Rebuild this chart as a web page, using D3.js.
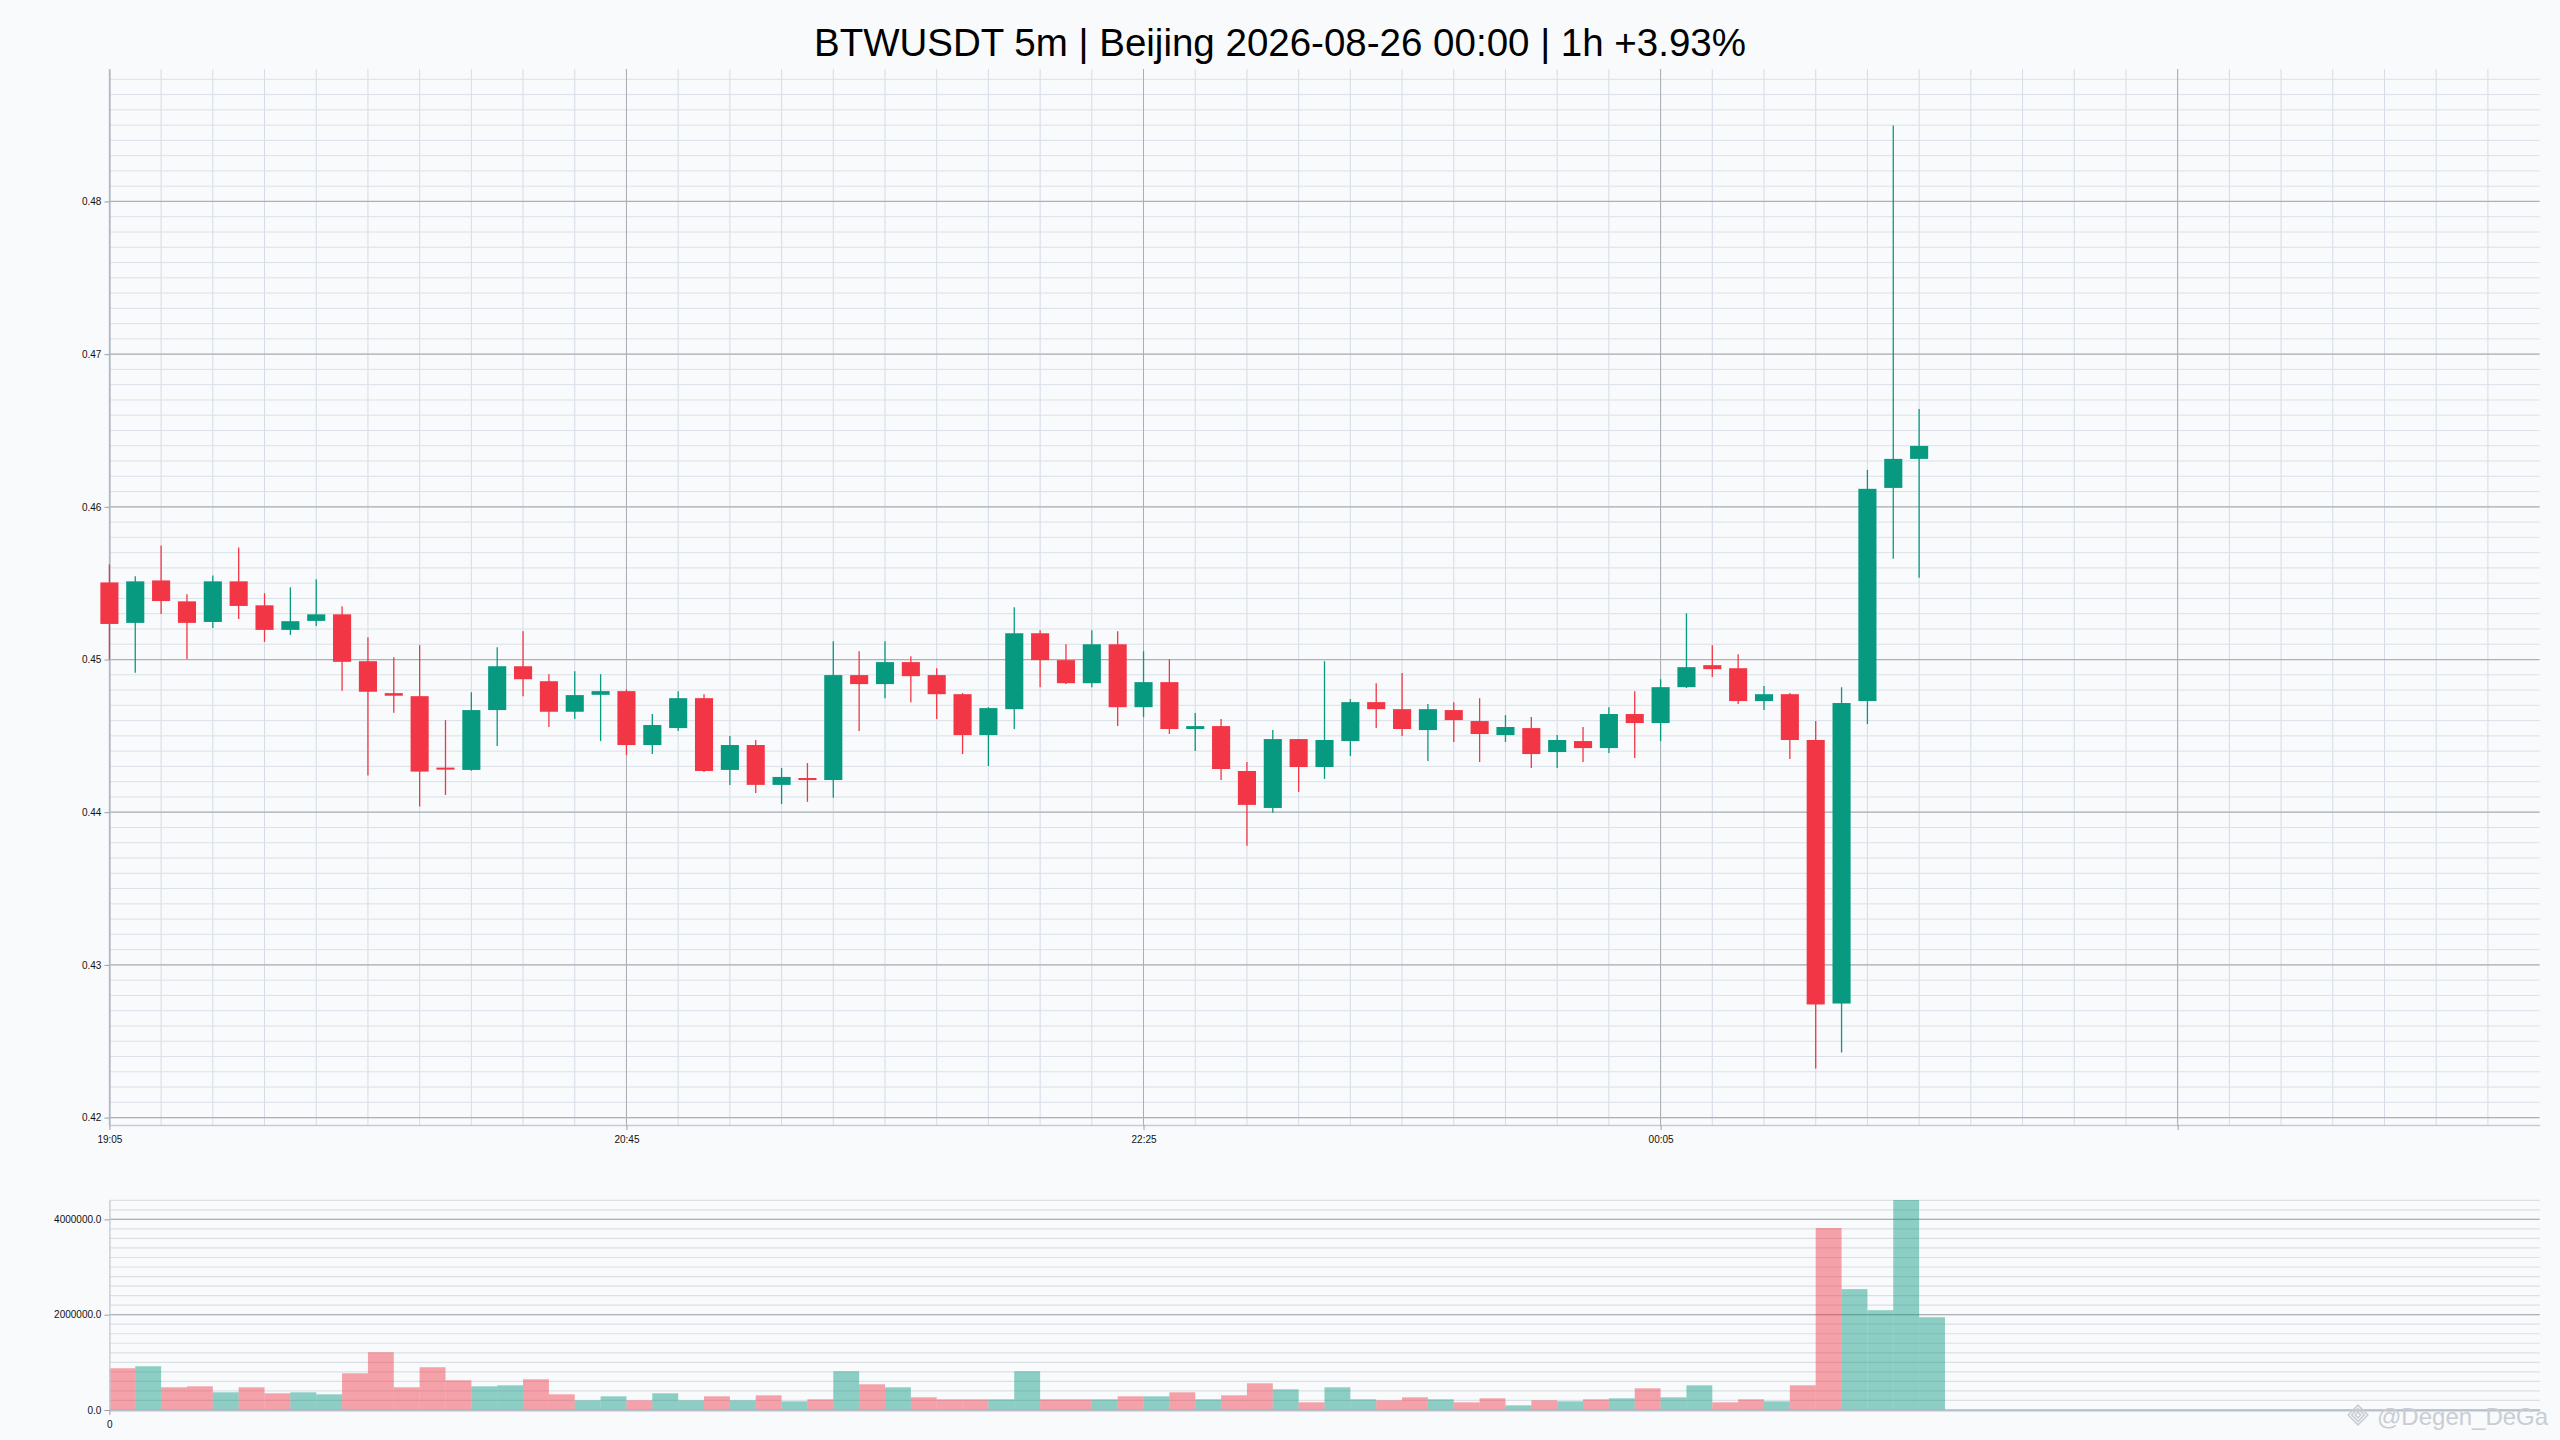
<!DOCTYPE html>
<html>
<head>
<meta charset="utf-8">
<script src="https://cdn.jsdelivr.net/npm/d3@7"></script>
<style>
  body { margin: 0; background: #f8fafc; }
  svg { display: block; }
  text { font-family: "Liberation Sans", Arial, sans-serif; }
</style>
</head>
<body>
<svg id="chart" width="2560" height="1440"></svg>
<script>
// --- data ---
var startDay = "2026-08-25";
var timeLabels = [
  "19:05","19:10","19:15","19:20","19:25","19:30","19:35","19:40","19:45","19:50",
  "19:55","20:00","20:05","20:10","20:15","20:20","20:25","20:30","20:35","20:40",
  "20:45","20:50","20:55","21:00","21:05","21:10","21:15","21:20","21:25","21:30",
  "21:35","21:40","21:45","21:50","21:55","22:00","22:05","22:10","22:15","22:20",
  "22:25","22:30","22:35","22:40","22:45","22:50","22:55","23:00","23:05","23:10",
  "23:15","23:20","23:25","23:30","23:35","23:40","23:45","23:50","23:55","00:00",
  "00:05","00:10","00:15","00:20","00:25","00:30","00:35","00:40","00:45","00:50",
  "00:55"
];
var open = [
  0.45505,0.45240,0.45518,0.45381,0.45246,0.45512,0.45355,0.45194,0.45253,0.45296,
  0.44989,0.44780,0.44760,0.44292,0.44277,0.44669,0.44956,0.44858,0.44658,0.44769,
  0.44793,0.44440,0.44551,0.44747,0.44277,0.44440,0.44179,0.44224,0.44211,0.44898,
  0.44839,0.44983,0.44898,0.44773,0.44505,0.44675,0.45172,0.44996,0.44845,0.45100,
  0.44688,0.44852,0.44545,0.44564,0.44270,0.44028,0.44479,0.44296,0.44466,0.44721,
  0.44675,0.44538,0.44669,0.44597,0.44505,0.44551,0.44394,0.44466,0.44420,0.44643,
  0.44584,0.44819,0.44963,0.44943,0.44728,0.44773,0.44473,0.42747,0.44728,0.46124,
  0.46314
];
var high = [
  0.45623,0.45545,0.45747,0.45427,0.45551,0.45734,0.45434,0.45473,0.45525,0.45349,
  0.45146,0.45015,0.45094,0.44603,0.44786,0.45081,0.45185,0.44904,0.44924,0.44904,
  0.44804,0.44643,0.44793,0.44773,0.44499,0.44473,0.44290,0.44322,0.45120,0.45054,
  0.45120,0.45022,0.44943,0.44780,0.44688,0.45342,0.45192,0.45100,0.45192,0.45185,
  0.45054,0.45002,0.44649,0.44610,0.44329,0.44538,0.44479,0.44989,0.44741,0.44845,
  0.44911,0.44708,0.44721,0.44747,0.44636,0.44623,0.44505,0.44558,0.44688,0.44793,
  0.44871,0.45303,0.45094,0.45035,0.44826,0.44780,0.44597,0.44819,0.46242,0.48497,
  0.46641
];
var low = [
  0.45000,0.44913,0.45298,0.45004,0.45207,0.45266,0.45115,0.45161,0.45220,0.44795,
  0.44240,0.44651,0.44037,0.44113,0.44272,0.44434,0.44760,0.44558,0.44610,0.44466,
  0.44375,0.44381,0.44532,0.44264,0.44179,0.44126,0.44054,0.44068,0.44094,0.44532,
  0.44747,0.44721,0.44610,0.44381,0.44303,0.44545,0.44819,0.44839,0.44819,0.44564,
  0.44623,0.44512,0.44401,0.44211,0.43780,0.43996,0.44133,0.44218,0.44368,0.44551,
  0.44499,0.44336,0.44460,0.44329,0.44460,0.44290,0.44290,0.44329,0.44388,0.44355,
  0.44466,0.44813,0.44885,0.44708,0.44669,0.44349,0.42322,0.42427,0.44577,0.45660,
  0.45536
];
var close = [
  0.45233,0.45512,0.45383,0.45240,0.45512,0.45351,0.45194,0.45251,0.45296,0.44985,
  0.44789,0.44763,0.44266,0.44279,0.44669,0.44956,0.44871,0.44658,0.44767,0.44793,
  0.44440,0.44571,0.44747,0.44270,0.44440,0.44179,0.44231,0.44211,0.44898,0.44839,
  0.44983,0.44891,0.44773,0.44505,0.44682,0.45172,0.44996,0.44845,0.45100,0.44688,
  0.44852,0.44545,0.44564,0.44283,0.44048,0.44479,0.44296,0.44473,0.44721,0.44675,
  0.44545,0.44675,0.44603,0.44512,0.44558,0.44381,0.44473,0.44420,0.44643,0.44584,
  0.44819,0.44950,0.44937,0.44728,0.44773,0.44473,0.42741,0.44715,0.46118,0.46314,
  0.46399
];
var volume = [
  876000,918000,476000,497000,371000,476000,350000,371000,329000,770000,
  1212000,476000,897000,623000,497000,518000,644000,329000,203000,287000,
  203000,350000,203000,287000,203000,308000,182000,224000,813000,539000,
  476000,266000,224000,224000,224000,813000,224000,224000,224000,287000,
  287000,371000,224000,308000,560000,434000,161000,476000,224000,203000,
  266000,224000,161000,245000,98000,203000,182000,224000,245000,455000,
  266000,518000,161000,224000,182000,518000,3818000,2536000,2094000,4406000,
  1947000
];

var xDomainLabels = ["2026-08-25 19:05", "2026-08-26 02:55"];
var timeTickValues = ["2026-08-25 19:05", "2026-08-25 20:45", "2026-08-25 22:25", "2026-08-26 00:05", "2026-08-26 01:45"];
var timeTickLabels = ["19:05", "20:45", "22:25", "00:05", ""];
var priceTicks = [0.42, 0.43, 0.44, 0.45, 0.46, 0.47, 0.48];
var volumeTicks = [0, 2000000, 4000000];
var volumeXTickLabels = ["0"];

var title = "BTWUSDT 5m | Beijing 2026-08-26 00:00 | 1h +3.93%";
var watermark = "@Degen_DeGa";

// --- setup ---
var svg = d3.select("#chart");
var upColor = "#089981";
var downColor = "#f23645";

var parseTime = d3.timeParse("%Y-%m-%d %H:%M");
var day = parseTime(startDay + " 00:00");
var prevHour = -1;
var times = timeLabels.map(function (t) {
  var h = +t.slice(0, 2);
  if (h < prevHour) day = d3.timeDay.offset(day, 1);
  prevHour = h;
  return parseTime(d3.timeFormat("%Y-%m-%d")(day) + " " + t);
});

var candles = times.map(function (t, i) {
  return { t: t, o: open[i], h: high[i], l: low[i], c: close[i], v: volume[i], up: close[i] >= open[i] };
});

var plotL = 109.4, plotR = 2539.6;
var mainTop = 69, mainBottom = 1125;
var volTop = 1200, volBottom = 1410;

var x = d3.scaleTime()
  .domain(xDomainLabels.map(parseTime))
  .range([plotL, plotR]);

var minLow = d3.min(low), maxHigh = d3.max(high);
var pad = (maxHigh - minLow) * 0.06;
var y = d3.scaleLinear()
  .domain([minLow - pad, maxHigh + pad])
  .range([mainBottom, mainTop]);

var vy = d3.scaleLinear()
  .domain([0, d3.max(volume)])
  .range([volBottom, volTop]);

var step = x(times[1]) - x(times[0]);

// --- title ---
svg.append("text")
  .attr("x", 1280)
  .attr("y", 56)
  .attr("text-anchor", "middle")
  .style("font-size", "38.5px")
  .style("fill", "#000")
  .text(title);

// --- main grid ---
var grid = svg.append("g");

grid.selectAll(".vminor")
  .data(d3.timeMinute.range(x.domain()[0], x.domain()[1], 10))
  .enter().append("line")
  .attr("x1", function (d) { return x(d); })
  .attr("x2", function (d) { return x(d); })
  .attr("y1", mainTop).attr("y2", mainBottom)
  .attr("stroke", "#d5dce6").attr("stroke-width", 1);

grid.selectAll(".hminor")
  .data(y.ticks(60))
  .enter().append("line")
  .attr("x1", plotL).attr("x2", plotR)
  .attr("y1", function (d) { return y(d); })
  .attr("y2", function (d) { return y(d); })
  .attr("stroke", "#dae1e9").attr("stroke-width", 1);

grid.selectAll(".vmajor")
  .data(timeTickValues.map(parseTime))
  .enter().append("line")
  .attr("x1", function (d) { return x(d); })
  .attr("x2", function (d) { return x(d); })
  .attr("y1", mainTop).attr("y2", mainBottom)
  .attr("stroke", "#a9adb3").attr("stroke-width", 1);

grid.selectAll(".hmajor")
  .data(priceTicks)
  .enter().append("line")
  .attr("x1", plotL).attr("x2", plotR)
  .attr("y1", function (d) { return y(d); })
  .attr("y2", function (d) { return y(d); })
  .attr("stroke", "#adb0b5").attr("stroke-width", 1.2);

// --- main axes ---
var yAxisG = svg.append("g")
  .attr("transform", "translate(" + plotL + ",0)")
  .call(d3.axisLeft(y).tickValues(priceTicks).tickFormat(d3.format(".2f")).tickSize(5).tickSizeOuter(0).tickPadding(3));

var xAxisG = svg.append("g")
  .attr("transform", "translate(0," + mainBottom + ")")
  .call(d3.axisBottom(x)
    .tickValues(timeTickValues.map(parseTime))
    .tickFormat(function (d, i) { return timeTickLabels[i]; })
    .tickSize(5).tickSizeOuter(0).tickPadding(6));

[yAxisG, xAxisG].forEach(function (g) {
  g.selectAll("text").style("font-size", "10px").style("fill", "#111")
    .style("font-family", '"Liberation Sans", Arial, sans-serif');
  g.selectAll(".tick line").attr("stroke", "#9aa1a9");
});
yAxisG.select(".domain").attr("stroke", "#b3bac4").attr("stroke-width", 1.6);
xAxisG.select(".domain").attr("stroke", "#c4ccd6").attr("stroke-width", 1.6);

// --- candles ---
var candleG = svg.append("g").selectAll(".candle")
  .data(candles)
  .enter().append("g")
  .attr("transform", function (d) { return "translate(" + x(d.t) + ",0)"; });

candleG.append("line")
  .attr("x1", 0).attr("x2", 0)
  .attr("y1", function (d) { return y(d.h); })
  .attr("y2", function (d) { return y(d.l); })
  .attr("stroke", function (d) { return d.up ? upColor : downColor; })
  .attr("stroke-width", 1.3);

var bodyW = step * 0.7;
candleG.append("rect")
  .attr("x", -bodyW / 2)
  .attr("width", bodyW)
  .attr("y", function (d) { return y(Math.max(d.o, d.c)); })
  .attr("height", function (d) { return Math.max(2, Math.abs(y(d.o) - y(d.c))); })
  .attr("fill", function (d) { return d.up ? upColor : downColor; });

// --- volume panel ---
var vgrid = svg.append("g");
vgrid.selectAll(".vhminor")
  .data(vy.ticks(22))
  .enter().append("line")
  .attr("x1", plotL).attr("x2", plotR)
  .attr("y1", function (d) { return vy(d); })
  .attr("y2", function (d) { return vy(d); })
  .attr("stroke", "#dcdfe4").attr("stroke-width", 1.2);

vgrid.selectAll(".vhmajor")
  .data(volumeTicks)
  .enter().append("line")
  .attr("x1", plotL).attr("x2", plotR)
  .attr("y1", function (d) { return vy(d); })
  .attr("y2", function (d) { return vy(d); })
  .attr("stroke", "#adb0b5").attr("stroke-width", 1.2);

svg.append("g").selectAll(".vol")
  .data(candles)
  .enter().append("rect")
  .attr("x", function (d) { return x(d.t); })
  .attr("width", step)
  .attr("y", function (d) { return vy(d.v); })
  .attr("height", function (d) { return vy(0) - vy(d.v); })
  .attr("fill", function (d) { return d.up ? upColor : downColor; })
  .attr("fill-opacity", 0.45);

var vyAxisG = svg.append("g")
  .attr("transform", "translate(" + plotL + ",0)")
  .call(d3.axisLeft(vy).tickValues(volumeTicks).tickFormat(d3.format(".1f")).tickSize(5).tickSizeOuter(0).tickPadding(3));

var vxAxisG = svg.append("g")
  .attr("transform", "translate(0," + volBottom + ")")
  .call(d3.axisBottom(x)
    .tickValues([times[0]])
    .tickFormat(function (d, i) { return volumeXTickLabels[i]; })
    .tickSize(5).tickSizeOuter(0).tickPadding(6));

[vyAxisG, vxAxisG].forEach(function (g) {
  g.selectAll("text").style("font-size", "10px").style("fill", "#111")
    .style("font-family", '"Liberation Sans", Arial, sans-serif');
  g.selectAll(".tick line").attr("stroke", "#9aa1a9");
});
vyAxisG.select(".domain").attr("stroke", "#c4ccd6").attr("stroke-width", 1.4);
vxAxisG.select(".domain").attr("stroke", "#b9c1cc").attr("stroke-width", 1.8);

// --- watermark ---
var wm = svg.append("g").attr("transform", "translate(2358,1415)");
[14, 9, 4].forEach(function (s) {
  wm.append("rect")
    .attr("x", -s / 2).attr("y", -s / 2)
    .attr("width", s).attr("height", s)
    .attr("transform", "rotate(45)")
    .attr("fill", "none")
    .attr("stroke", "#c9cdd3")
    .attr("stroke-width", 1.5);
});
svg.append("text")
  .attr("x", 2377)
  .attr("y", 1425)
  .style("font-size", "24px")
  .style("fill", "#c9cdd3")
  .text(watermark);
</script>
</body>
</html>
